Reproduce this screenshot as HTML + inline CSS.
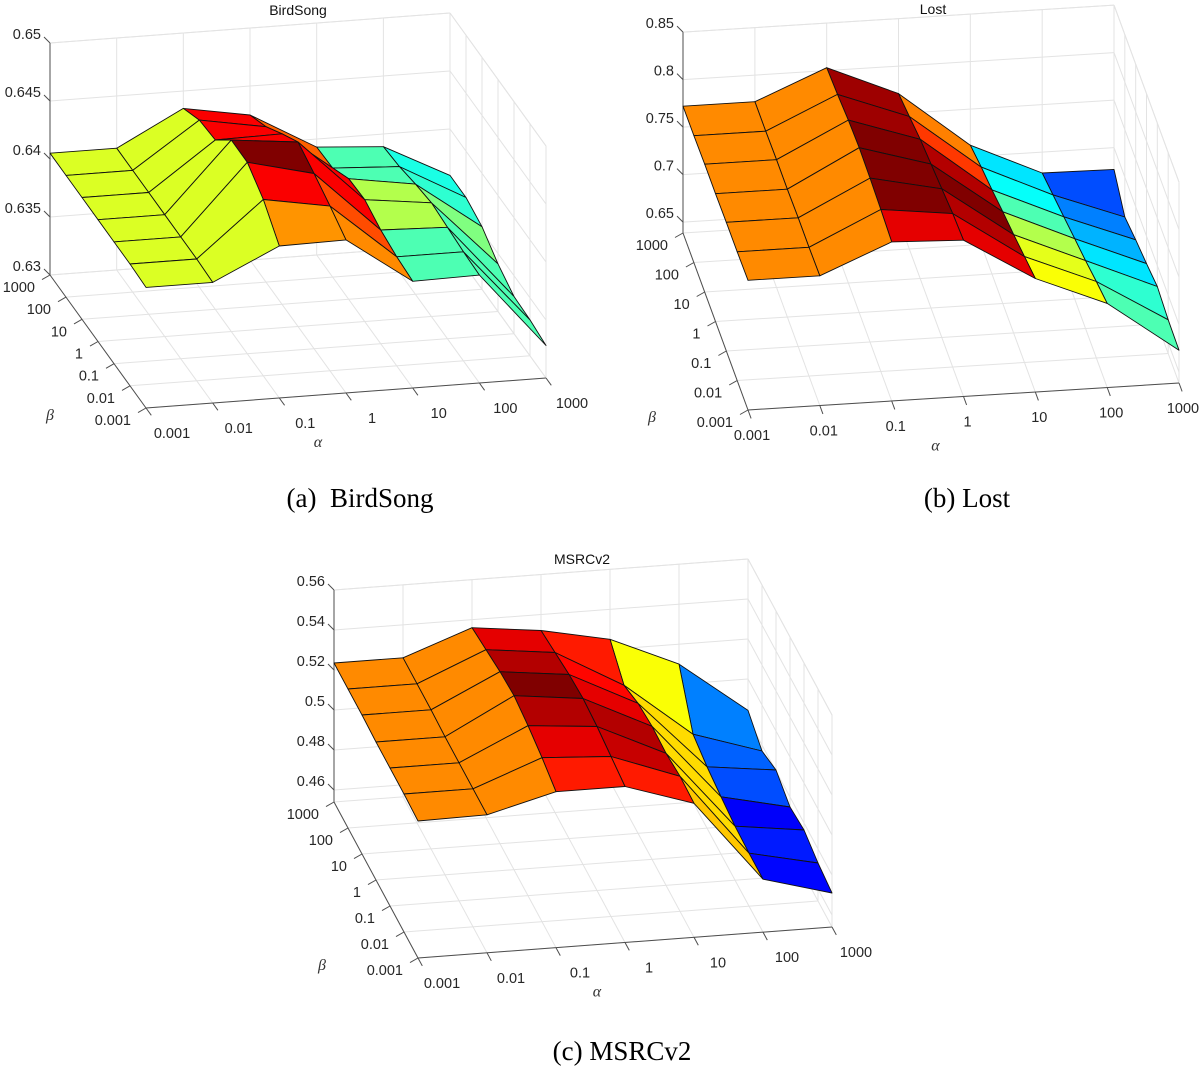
<!DOCTYPE html>
<html>
<head>
<meta charset="utf-8">
<style>
html,body{margin:0;padding:0;background:#fff;}
svg{display:block;}
.tick{font-family:"Liberation Sans",sans-serif;font-size:14.5px;fill:#262626;}
.ttl{font-family:"Liberation Sans",sans-serif;font-size:14px;fill:#111;}
.ax{font-family:"Liberation Serif",serif;font-style:italic;font-size:16px;fill:#333;}
.cap{font-family:"Liberation Serif",serif;font-size:27px;fill:#000;}
</style>
</head>
<body>
<svg id="fig" width="1200" height="1066" viewBox="0 0 1200 1066" xmlns="http://www.w3.org/2000/svg">
<text class="cap" x="360" y="507" text-anchor="middle">(a)&#160;&#160;BirdSong</text>
<text class="cap" x="967" y="507" text-anchor="middle">(b) Lost</text>
<text class="cap" x="622" y="1060" text-anchor="middle">(c) MSRCv2</text>
</svg>
<script>
// ---- shared axis categories ----
const alphaLabels = ['0.001','0.01','0.1','1','10','100','1000'];
const betaLabels = ['0.001','0.01','0.1','1','10','100','1000'];

// ---- BirdSong: rows = beta (0.001 front .. 1000 back), cols = alpha ----
const birdZ = [
  [0.6404,0.6404,0.6431,0.6432,0.6392,0.6393,0.6328],
  [0.6405,0.6405,0.6452,0.6442,0.6394,0.6394,0.6331],
  [0.6405,0.6405,0.6465,0.6451,0.6398,0.6396,0.6332],
  [0.6405,0.6405,0.6465,0.6459,0.6405,0.6398,0.6341],
  [0.6405,0.6405,0.6446,0.6447,0.6404,0.6395,0.6354],
  [0.6405,0.6405,0.6444,0.6434,0.6394,0.6391,0.6360],
  [0.6405,0.6405,0.6435,0.6425,0.6393,0.6389,0.6360]
];
const birdC = [
  [0.59,0.59,0.73,0.74,0.45,0.45],
  [0.59,0.59,0.88,0.80,0.45,0.45],
  [0.59,0.59,1.00,0.88,0.55,0.45],
  [0.59,0.59,0.88,0.88,0.55,0.50],
  [0.59,0.59,0.88,0.82,0.45,0.42],
  [0.59,0.59,0.88,0.78,0.45,0.40]
];
const birdTicks = [0.63,0.635,0.64,0.645,0.65];
const birdTickLabels = ['0.63','0.635','0.64','0.645','0.65'];

// ---- Lost ----
const lostZ = [
  [0.775,0.775,0.806,0.803,0.758,0.727,0.673],
  [0.774,0.774,0.809,0.800,0.750,0.719,0.674],
  [0.774,0.774,0.811,0.795,0.742,0.710,0.678],
  [0.773,0.773,0.812,0.790,0.735,0.702,0.671],
  [0.773,0.773,0.810,0.785,0.727,0.694,0.665],
  [0.772,0.772,0.806,0.778,0.720,0.686,0.658],
  [0.772,0.772,0.803,0.771,0.712,0.678,0.677]
];
const lostC = [
  [0.74,0.74,0.90,0.90,0.62,0.45],
  [0.74,0.74,1.00,0.95,0.60,0.42],
  [0.74,0.74,1.00,1.00,0.55,0.35],
  [0.74,0.74,1.00,0.95,0.45,0.30],
  [0.74,0.74,0.97,0.82,0.38,0.25],
  [0.74,0.74,0.97,0.75,0.35,0.20]
];
const lostTicks = [0.65,0.7,0.75,0.8,0.85];
const lostTickLabels = ['0.65','0.7','0.75','0.8','0.85'];

// ---- MSRCv2 ----
const msrcZ = [
  [0.5225,0.523,0.532,0.532,0.521,0.4805,0.471],
  [0.523,0.523,0.536,0.534,0.5215,0.4805,0.473],
  [0.523,0.523,0.539,0.536,0.520,0.481,0.4765],
  [0.523,0.523,0.541,0.537,0.5205,0.4827,0.475],
  [0.5235,0.5235,0.540,0.536,0.519,0.4847,0.4805],
  [0.5235,0.5235,0.538,0.534,0.515,0.488,0.477],
  [0.5235,0.5235,0.536,0.532,0.525,0.510,0.4843]
];
const msrcC = [
  [0.74,0.74,0.85,0.85,0.68,0.13],
  [0.74,0.74,0.90,0.93,0.66,0.15],
  [0.74,0.74,0.95,0.95,0.66,0.12],
  [0.74,0.74,1.00,0.90,0.66,0.20],
  [0.74,0.74,0.95,0.87,0.66,0.22],
  [0.74,0.74,0.90,0.85,0.62,0.25]
];
const msrcTicks = [0.46,0.48,0.5,0.52,0.54,0.56];
const msrcTickLabels = ['0.46','0.48','0.5','0.52','0.54','0.56'];

const NS = 'http://www.w3.org/2000/svg';
const svg = document.getElementById('fig');

function jet(f){
  const c = v => Math.max(0, Math.min(1, v));
  const r = c(1.5 - Math.abs(4*f - 3)), g = c(1.5 - Math.abs(4*f - 2)), b = c(1.5 - Math.abs(4*f - 1));
  return 'rgb(' + Math.round(r*255) + ',' + Math.round(g*255) + ',' + Math.round(b*255) + ')';
}
function mk(tag, attrs, parent){
  const e = document.createElementNS(NS, tag);
  for (const k in attrs) e.setAttribute(k, attrs[k]);
  parent.appendChild(e);
  return e;
}

function drawPlot(cfg){
  const g = mk('g', {}, svg);
  
  
  const P = (i, j, z) => [cfg.O[0] + i*cfg.ea[0] + j*cfg.eb[0],
                          cfg.O[1] + i*cfg.ea[1] + j*cfg.eb[1] - (z - cfg.zmin)*cfg.k];
  const line = (a, b, stroke, w, name, parent) => {
    const l = mk('line', {x1:a[0].toFixed(1), y1:a[1].toFixed(1), x2:b[0].toFixed(1), y2:b[1].toFixed(1), stroke:stroke, 'stroke-width':w}, parent);
    
    
    return l;
  };
  const grid = mk('g', {}, g);
  
  
  const gc = '#e3e3e3';
  const n = alphaLabels.length - 1, m = betaLabels.length - 1;
  for (let j = 0; j <= m; j++) line(P(0,j,cfg.zmin), P(n,j,cfg.zmin), gc, 1, 'floor-grid-line', grid);
  for (let i = 0; i <= n; i++) line(P(i,0,cfg.zmin), P(i,m,cfg.zmin), gc, 1, 'floor-grid-line', grid);
  for (let i = 0; i <= n; i++) line(P(i,m,cfg.zmin), P(i,m,cfg.zmax), gc, 1, 'back-wall-grid-line', grid);
  for (const t of cfg.ticks) line(P(0,m,t), P(n,m,t), gc, 1, 'back-wall-grid-line', grid);
  line(P(0,m,cfg.zmax), P(n,m,cfg.zmax), gc, 1, 'back-wall-grid-line', grid);
  for (let j = 0; j <= m; j++) line(P(n,j,cfg.zmin), P(n,j,cfg.zmax), gc, 1, 'side-wall-grid-line', grid);
  for (const t of cfg.ticks) line(P(n,0,t), P(n,m,t), gc, 1, 'side-wall-grid-line', grid);
  line(P(n,0,cfg.zmax), P(n,m,cfg.zmax), gc, 1, 'side-wall-grid-line', grid);

  const ac = '#4d4d4d';
  line(P(0,m,cfg.zmin), P(0,m,cfg.zmax), ac, 1, 'z-axis-line', g);
  line(P(0,0,cfg.zmin), P(0,m,cfg.zmin), ac, 1, 'beta-axis-line', g);
  line(P(0,0,cfg.zmin), P(n,0,cfg.zmin), ac, 1, 'alpha-axis-line', g);

  const faces = [];
  for (let j = 0; j < m; j++) for (let i = 0; i < n; i++) {
    const depth = cfg.O[1] + (i+0.5)*cfg.ea[1] + (j+0.5)*cfg.eb[1];
    faces.push({i, j, depth});
  }
  faces.sort((a, b) => a.depth - b.depth);
  const surf = mk('g', {}, g);
  
  
  for (const f of faces) {
    const {i, j} = f, Z = cfg.Z;
    const pts = [P(i,j,Z[j][i]), P(i+1,j,Z[j][i+1]), P(i+1,j+1,Z[j+1][i+1]), P(i,j+1,Z[j+1][i])];
    const poly = mk('polygon', {points: pts.map(p => p[0].toFixed(1) + ',' + p[1].toFixed(1)).join(' '),
      fill: jet(cfg.C[j][i]), stroke:'#111', 'stroke-width':0.9, 'stroke-linejoin':'round'}, surf);
    
    
  }

  cfg.ticks.forEach((t, k) => {
    const p = P(0,m,t);
    line([p[0]-6, p[1]-6], p, ac, 1, 'z-tick', g);
    const tx = mk('text', {x:(p[0]-9).toFixed(1), y:(p[1]-4).toFixed(1), 'text-anchor':'end', class:'tick'}, g);
    tx.textContent = cfg.tickLabels[k];
    
    
  });
  const eaL = Math.hypot(cfg.ea[0], cfg.ea[1]);
  betaLabels.forEach((lab, j) => {
    const p = P(0,j,cfg.zmin);
    line(p, [p[0] - cfg.ea[0]/eaL*8, p[1] - cfg.ea[1]/eaL*8 + 4], ac, 1, 'beta-tick', g);
    const tx = mk('text', {x:(p[0]-15).toFixed(1), y:(p[1]+17).toFixed(1), 'text-anchor':'end', class:'tick'}, g);
    tx.textContent = lab;
    
    
  });
  const ebL = Math.hypot(cfg.eb[0], cfg.eb[1]);
  alphaLabels.forEach((lab, i) => {
    const p = P(i,0,cfg.zmin);
    line(p, [p[0] - cfg.eb[0]/ebL*9, p[1] - cfg.eb[1]/ebL*9], ac, 1, 'alpha-tick', g);
    const tx = mk('text', {x:(p[0]+cfg.alphaDx).toFixed(1), y:(p[1]+30).toFixed(1), 'text-anchor':'middle', class:'tick'}, g);
    tx.textContent = lab;
    
    
  });
  const pa = P(3,0,cfg.zmin);
  const at = mk('text', {x:(pa[0]-28).toFixed(1), y:(pa[1]+54).toFixed(1), 'text-anchor':'middle', class:'ax'}, g);
  at.textContent = 'α';
  
  
  const pb = P(0,0,cfg.zmin);
  const bt = mk('text', {x:(pb[0]-96).toFixed(1), y:(pb[1]+12).toFixed(1), 'text-anchor':'middle', class:'ax'}, g);
  bt.textContent = 'β';
  
  
  const tt = mk('text', {x:cfg.title[1], y:cfg.title[2], 'text-anchor':'middle', class:'ttl'}, g);
  tt.textContent = cfg.title[0];
  
  
}

drawPlot({name:'birdsong', O:[146,408], ea:[66.67,-5], eb:[-16,-22.17], zmin:0.63, zmax:0.65, k:11600,
  Z:birdZ, C:birdC, ticks:birdTicks, tickLabels:birdTickLabels, title:['BirdSong',298,15], alphaDx:26});
drawPlot({name:'lost', O:[748,410], ea:[71.83,-4.5], eb:[-10.83,-29.5], zmin:0.6385, zmax:0.85, k:950,
  Z:lostZ, C:lostC, ticks:lostTicks, tickLabels:lostTickLabels, title:['Lost',933,14], alphaDx:4});
drawPlot({name:'msrcv2', O:[418,958], ea:[69,-5.17], eb:[-14,-26], zmin:0.454, zmax:0.56, k:2000,
  Z:msrcZ, C:msrcC, ticks:msrcTicks, tickLabels:msrcTickLabels, title:['MSRCv2',582,564], alphaDx:24});
</script>
</body>
</html>
